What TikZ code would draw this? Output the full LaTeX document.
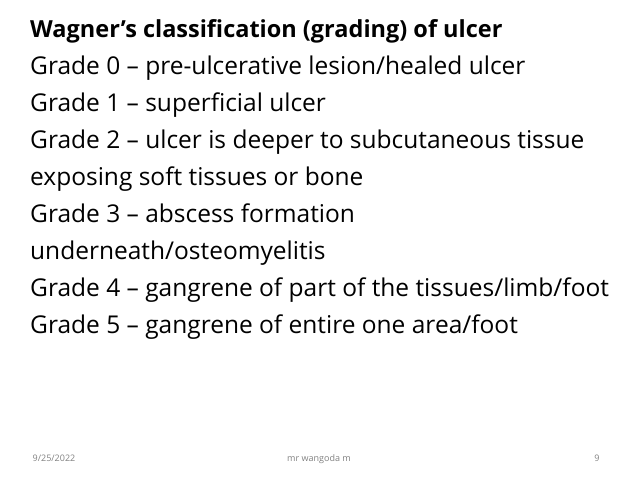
\documentclass[tikz,border=0pt]{standalone}
\usepackage{fontspec}
\setmainfont{Open Sans}
\begin{document}
\begin{tikzpicture}[x=1pt,y=-1pt,
  line/.style={anchor=base west,inner sep=0pt,font=\fontsize{24.5}{29}\selectfont},
  foot/.style={anchor=base,inner sep=0pt,font=\fontsize{9}{11}\selectfont,text=gray}]
\useasboundingbox (0,0) rectangle (638,478);
\node[line,font=\fontsize{23.5}{29}\selectfont\bfseries] (t) at (30,38) {Wagner’s classification (grading) of ulcer};
\node[line] (g0) at (30,75) {Grade 0 – pre-ulcerative lesion/healed ulcer};
\node[line] (g1) at (30,112) {Grade 1 – superficial ulcer};
\node[line] (g2) at (30,149) {Grade 2 – ulcer is deeper to subcutaneous tissue};
\node[line] (g2b) at (30,186) {exposing soft tissues or bone};
\node[line] (g3) at (30,223) {Grade 3 – abscess formation};
\node[line] (g3b) at (30,260) {underneath/osteomyelitis};
\node[line] (g4) at (30,297) {Grade 4 – gangrene of part of the tissues/limb/foot};
\node[line] (g5) at (30,334) {Grade 5 – gangrene of entire one area/foot};
\node[foot] (d) at (54,462) {9/25/2022};
\node[foot] (a) at (319,462) {mr wangoda m};
\node[foot] (p) at (597,462) {9};
\end{tikzpicture}
\end{document}
